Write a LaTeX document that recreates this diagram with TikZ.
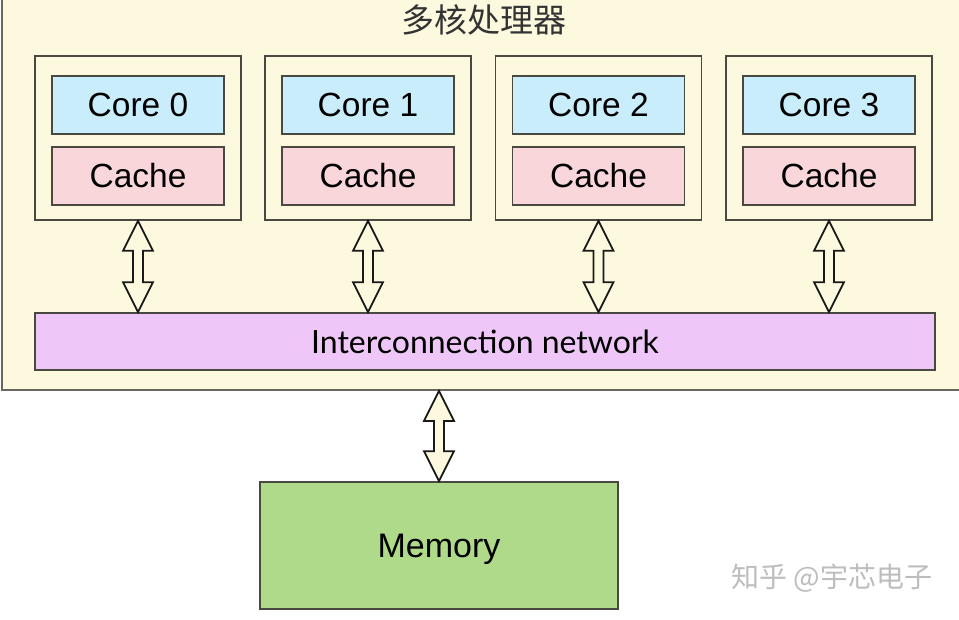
\documentclass[tikz,border=0pt]{standalone}
\usepackage{fontspec}
\setmainfont{Liberation Sans}
\newfontfamily\gill{Lato}
\newfontfamily\cjk{Noto Sans CJK SC}
\usetikzlibrary{calc}
\definecolor{bgcream}{HTML}{FDF9DF}
\definecolor{coreblue}{HTML}{C9EDFB}
\definecolor{cachepink}{HTML}{F9D6D9}
\definecolor{netlilac}{HTML}{EEC6F7}
\definecolor{memgreen}{HTML}{AFDA8A}
\definecolor{edgegray}{HTML}{4A4840}
\definecolor{chipedge}{HTML}{6A685E}
\definecolor{wmgray}{HTML}{BDBDBD}
\tikzset{
  box/.style={draw=edgegray, line width=1.6pt, inner sep=0pt, rectangle},
  unitbox/.style={box, fill=bgcream, minimum width=206pt, minimum height=164pt},
  corebox/.style={box, fill=coreblue, minimum width=172pt, minimum height=58pt, font=\fontsize{33.5}{36}\selectfont, text=black},
  cachebox/.style={box, fill=cachepink, minimum width=172pt, minimum height=58pt, font=\fontsize{33.5}{36}\selectfont, text=black},
  dblarr/.style={draw=black!90, line width=1.8pt, fill=bgcream, line join=miter},
}
\newcommand{\busarrow}[2]{%
  \draw[dblarr] let \p1=(#1), \p2=(#2) in
    (\x1,\y1) -- (\x1+15pt,\y1-30pt) -- (\x1+5pt,\y1-30pt) -- (\x1+5pt,\y2+30pt)
    -- (\x1+15pt,\y2+30pt) -- (\x1,\y2) -- (\x1-15pt,\y2+30pt) -- (\x1-5pt,\y2+30pt)
    -- (\x1-5pt,\y1-30pt) -- (\x1-15pt,\y1-30pt) -- cycle;}
\begin{document}
\begin{tikzpicture}[x=1pt,y=-1pt]
\useasboundingbox (0,0) rectangle (959,619);
\clip (0,0) rectangle (959,619);
\fill[white] (0,0) rectangle (959,619);
% chip
\node[draw=chipedge, line width=1.8pt, fill=bgcream, inner sep=0pt, minimum width=988pt, minimum height=400pt] (chip) at (496,190) {};
\node[font=\cjk\fontsize{33}{36}\selectfont, text=black!80] (title) at (484,20) {多核处理器};
% units
\foreach \i/\x in {0/138,1/368,2/598.5,3/829}{
  \node[unitbox] (u\i) at (\x,138) {};
  \node[corebox] (core\i) at (\x,105) {Core \i};
  \node[cachebox] (cache\i) at (\x,176) {Cache};
}
% network
\node[box, fill=netlilac, minimum width=900pt, minimum height=57pt, font=\gill\fontsize{32}{34}\selectfont, text=black] (net) at (485,341.5) {Interconnection network};
% memory
\node[box, fill=memgreen, minimum width=358pt, minimum height=127pt, inner sep=0pt, text=black] (mem) at (439,545.5) {};
\node[font=\fontsize{34}{36}\selectfont, text=black, anchor=base] (memtext) at ($(mem.center)+(0,12)$) {Memory};
% arrows
\busarrow{u0.south}{net.north -| u0.south}
\busarrow{u1.south}{net.north -| u1.south}
\busarrow{u2.south}{net.north -| u2.south}
\busarrow{u3.south}{net.north -| u3.south}
\busarrow{chip.south -| mem.north}{mem.north}
% watermark
\node[font=\cjk\fontsize{28}{30}\selectfont, text=wmgray] (wm) at (832,578) {知乎 @宇芯电子};
\end{tikzpicture}
\end{document}
